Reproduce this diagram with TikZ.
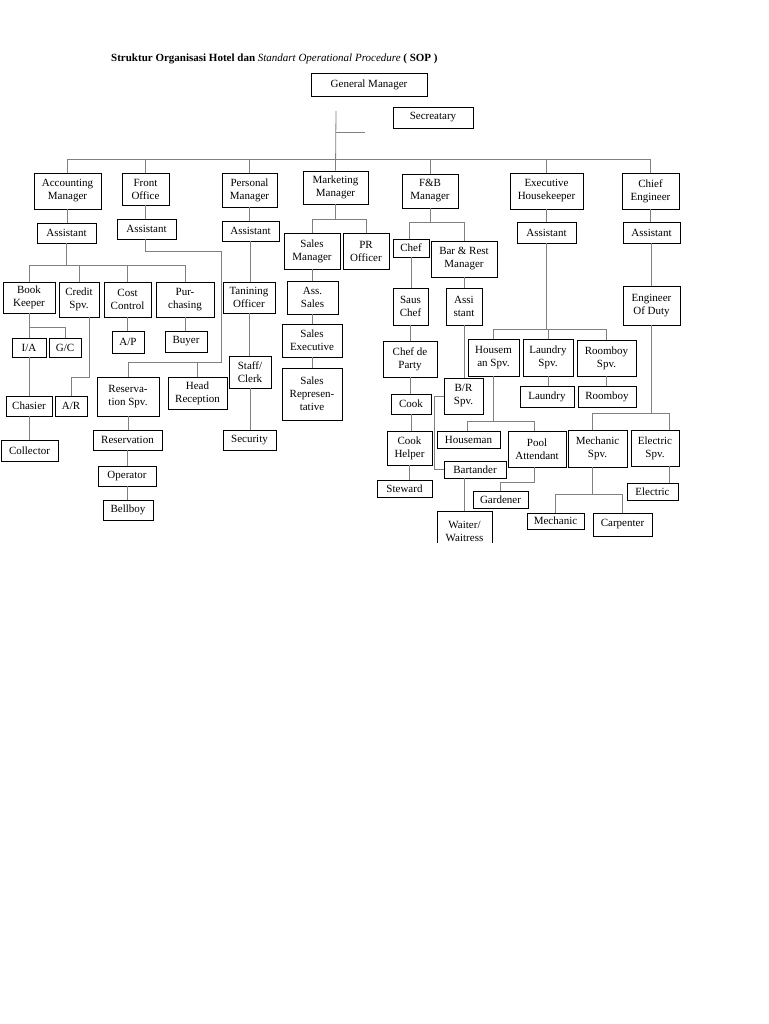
\documentclass[tikz,border=0pt]{standalone}
\usepackage{fontspec}
\setmainfont{Liberation Serif}
\definecolor{linegray}{gray}{0.5}
\tikzset{
  box/.style={draw=black,line width=0.9pt,fill=white,align=center,inner sep=0pt,
    font=\fontsize{11}{13}\selectfont},
  sz/.style 2 args={minimum width=#1pt,minimum height=#2pt},
  link/.style={draw=linegray,line width=0.8pt},
}
\begin{document}
\begin{tikzpicture}[x=1pt,y=-1pt]
  \useasboundingbox (0,0) rectangle (768,1024);

  \node[anchor=base west,inner sep=0pt,font=\fontsize{11}{13}\selectfont] (title) at (111,62)
    {\textbf{Struktur Organisasi Hotel dan} \textit{Standart Operational Procedure} \textbf{( SOP )}};

  \begin{scope}[every node/.style={box}]
    % top level
    \node[sz={116}{23}] (gm)  at (369,84.5)  {General Manager};
    \node[sz={80}{21}]  (sec) at (433,117.5) {Secreatary};
    \node[sz={67}{36}]  (acc) at (67.5,191)  {Accounting\\Manager};
    \node[sz={47}{32}]  (fo)  at (145.5,189) {Front\\Office};
    \node[sz={55}{34}]  (pm)  at (249.5,190) {Personal\\Manager};
    \node[sz={65}{33}]  (mm)  at (335.5,187.5) {Marketing\\Manager};
    \node[sz={56}{34}]  (fb)  at (430,191)   {F\&B\\Manager};
    \node[sz={73}{36}]  (eh)  at (546.5,191) {Executive\\Housekeeper};
    \node[sz={57}{36}]  (ce)  at (650.5,191) {Chief\\Engineer};

    % assistants
    \node[sz={59}{20}] (accas) at (66.5,233)  {Assistant};
    \node[sz={59}{20}] (foas)  at (146.5,229) {Assistant};
    \node[sz={57}{20}] (pmas)  at (250.5,231) {Assistant};
    \node[sz={59}{21}] (ehas)  at (546.5,232.5) {Assistant};
    \node[sz={57}{21}] (ceas)  at (651.5,232.5) {Assistant};

    % accounting and front office
    \node[sz={52}{31}] (bk)      at (29,297.5)  {Book\\Keeper};
    \node[sz={40}{35}] (cs)      at (79,299.5)  {Credit\\Spv.};
    \node[sz={47}{35}] (cc)      at (127.5,299.5) {Cost\\Control};
    \node[sz={58}{35}] (pur)     at (185,299.5) {Pur-\\chasing};
    \node[sz={34}{19}] (ia)      at (29,347.5)  {I/A};
    \node[sz={32}{19}] (gc)      at (65,347.5)  {G/C};
    \node[sz={32}{22}] (ap)      at (128,342)   {A/P};
    \node[sz={42}{21}] (buyer)   at (186,341.5) {Buyer};
    \node[sz={46}{20}] (chasier) at (29,406)    {Chasier};
    \node[sz={32}{20}] (ar)      at (71,406)    {A/R};
    \node[sz={57}{21}] (coll)    at (29.5,450.5) {Collector};
    \node[sz={62}{39}] (rspv)    at (128,396.5) {Reserva-\\tion Spv.};
    \node[sz={59}{32}] (hr)      at (197.5,393) {Head\\Reception};
    \node[sz={69}{20}] (res)     at (127.5,440) {Reservation};
    \node[sz={58}{20}] (op)      at (127,476)   {Operator};
    \node[sz={50}{20}] (bell)    at (128,510)   {Bellboy};

    % personal
    \node[sz={52}{31}] (to)    at (249,297.5) {Tanining\\Officer};
    \node[sz={42}{32}] (staff) at (250,372)   {Staff/\\Clerk};
    \node[sz={53}{20}] (secu)  at (249.5,440) {Security};

    % marketing
    \node[sz={56}{36}] (smgr) at (312,251)   {Sales\\Manager};
    \node[sz={46}{36}] (pr)   at (366,251)   {PR\\Officer};
    \node[sz={51}{33}] (ass)  at (312.5,297.5) {Ass.\\Sales};
    \node[sz={60}{33}] (sexe) at (312,340.5) {Sales\\Executive};
    \node[sz={60}{52}] (srep) at (312,394)   {Sales\\Represen-\\tative};

    % food and beverage
    \node[sz={36}{18}] (chef)  at (411,248)   {Chef};
    \node[sz={66}{36}] (brm)   at (464,259)   {Bar \& Rest\\Manager};
    \node[sz={35}{37}] (saus)  at (410.5,306.5) {Saus\\Chef};
    \node[sz={36}{37}] (assi)  at (464,306.5) {Assi\\stant};
    \node[sz={54}{36}] (cdp)   at (410,359)   {Chef de\\Party};
    \node[sz={39}{36}] (brspv) at (463.5,396) {B/R\\Spv.};
    \node[sz={40}{20}] (cook)  at (411,404)   {Cook};
    \node[sz={45}{34}] (ch)    at (409.5,448) {Cook\\Helper};
    \node[sz={55}{17}] (stew)  at (404.5,488.5) {Steward};
    \node[sz={62}{17}] (bart)  at (475,469.5) {Bartander};
    \begin{scope}
      \clip (0,0) rectangle (768,542);
      \node[sz={55}{40}] (waiter) at (464.5,531) {Waiter/\\Waitress};
    \end{scope}

    % housekeeping
    \node[sz={51}{37}] (hspv)     at (493.5,357.5) {Housem\\an Spv.};
    \node[sz={50}{37}] (lspv)     at (548,357.5)   {Laundry\\Spv.};
    \node[sz={59}{36}] (rbspv)    at (606.5,358)   {Roomboy\\Spv.};
    \node[sz={54}{21}] (laundry)  at (547,396.5)   {Laundry};
    \node[sz={58}{21}] (roomboy)  at (607,396.5)   {Roomboy};
    \node[sz={63}{17}] (houseman) at (468.5,439.5) {Houseman};
    \node[sz={58}{36}] (pool)     at (537,449)     {Pool\\Attendant};
    \node[sz={55}{17}] (gard)     at (500.5,499.5) {Gardener};

    % engineering
    \node[sz={57}{39}] (eod)  at (651.5,305.5) {Engineer\\Of Duty};
    \node[sz={59}{37}] (mspv) at (597.5,448.5) {Mechanic\\Spv.};
    \node[sz={48}{36}] (espv) at (655,448)     {Electric\\Spv.};
    \node[sz={57}{16}] (mech) at (555.5,521)   {Mechanic};
    \node[sz={59}{23}] (carp) at (622.5,524.5) {Carpenter};
    \node[sz={51}{17}] (elec) at (652.5,491.5) {Electric};
  \end{scope}

  \begin{scope}[every path/.style={link}]
    \coordinate (gmstem)  at (336,111);
    \coordinate (sectick) at (365,132);
    \coordinate (topbus)  at (0,159);
    \draw (gmstem) -- (mm.north);
    \draw (gmstem |- sectick) -- (sectick);
    \draw (acc.north) -- (acc.north |- topbus) -- (ce.north |- topbus) -- (ce.north);
    \foreach \n in {fo,pm,fb,eh}
      \draw (\n.north) -- (\n.north |- topbus);

    % straight drops
    \foreach \a/\b in {acc/accas,fo/foas,pm/pmas,pmas/to,to/staff,staff/secu,
        bk/ia,ia/chasier,chasier/coll,cc/ap,pur/buyer,rspv/res,res/op,op/bell,
        smgr/ass,ass/sexe,sexe/srep,chef/saus,saus/cdp,cdp/cook,cook/ch,ch/stew,
        brm/assi,assi/brspv,eh/ehas,lspv/laundry,rbspv/roomboy,ce/ceas,ceas/eod}
      \draw (\a.south) -- (\a.south |- \b.north);

    % accounting
    \coordinate (accbus) at (0,265);
    \coordinate (bkbus)  at (0,327);
    \coordinate (arbend) at (0,377);
    \draw (accas.south) -- (accas.south |- accbus);
    \draw (bk.north) -- (bk.north |- accbus) -- (pur.north |- accbus) -- (pur.north);
    \foreach \n in {cs,cc}
      \draw (\n.north) -- (\n.north |- accbus);
    \draw (bk.south |- bkbus) -| (gc.north);
    \draw ([xshift=10pt]cs.south) |- (arbend -| ar.north) -- (ar.north);

    % front office
    \coordinate (fobend) at (221,251);
    \coordinate (fobus)  at (221,362);
    \draw ([xshift=-1pt]foas.south) |- (fobend) -- (fobus) -| (rspv.north);
    \draw (hr.north) -- (hr.north |- fobus);

    % marketing
    \coordinate (mmbus) at (0,219);
    \draw (mm.south) -- (mm.south |- mmbus);
    \draw (smgr.north) -- (smgr.north |- mmbus) -- (pr.north |- mmbus) -- (pr.north);

    % food and beverage
    \coordinate (fbbus) at (0,222);
    \coordinate (barx)  at (434,0);
    \draw (fb.south) -- (fb.south |- fbbus);
    \draw ([xshift=-2pt]chef.north) -- ([xshift=-2pt]chef.north |- fbbus) -- (brm.north |- fbbus) -- (brm.north);
    \draw (brspv.west) -- (brspv.west -| barx) -- (bart.west -| barx) -- (bart.west);
    \draw (waiter.north |- bart.south) -- (waiter.north);

    % housekeeping
    \coordinate (ehbus)   at (0,329);
    \coordinate (hsbus)   at (0,421);
    \coordinate (poolbus) at (0,482);
    \draw (ehas.south) -- (ehas.south |- ehbus);
    \draw (hspv.north) -- (hspv.north |- ehbus) -- (rbspv.north |- ehbus) -- (rbspv.north);
    \draw (lspv.north) -- (lspv.north |- ehbus);
    \draw (hspv.south) -- (hspv.south |- hsbus);
    \draw ([xshift=-1pt]houseman.north) -- ([xshift=-1pt]houseman.north |- hsbus)
      -- ([xshift=-3pt]pool.north |- hsbus) -- ([xshift=-3pt]pool.north);
    \draw ([xshift=-3pt]pool.south) -- ([xshift=-3pt]pool.south |- poolbus) -| (gard.north);

    % engineering
    \coordinate (eodbus)  at (0,413);
    \coordinate (mspvbus) at (0,494);
    \draw (eod.south) -- (eod.south |- eodbus);
    \draw ([xshift=-5pt]mspv.north) -- ([xshift=-5pt]mspv.north |- eodbus)
      -- ([xshift=14pt]espv.north |- eodbus) -- ([xshift=14pt]espv.north);
    \draw ([xshift=14pt]espv.south) -- ([xshift=14pt]espv.south |- elec.north);
    \draw ([xshift=-5pt]mspv.south) -- ([xshift=-5pt]mspv.south |- mspvbus);
    \draw (mech.north) -- (mech.north |- mspvbus) -- (carp.north |- mspvbus) -- (carp.north);
  \end{scope}
\end{tikzpicture}
\end{document}
